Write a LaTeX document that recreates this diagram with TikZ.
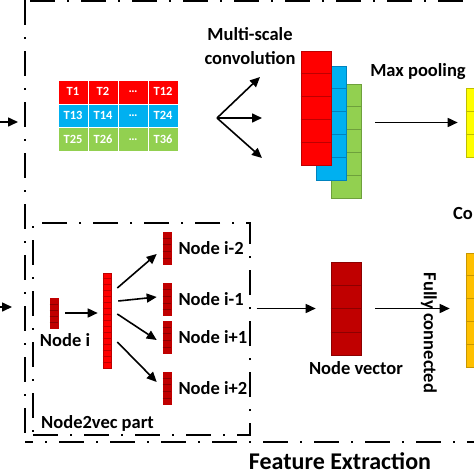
\documentclass[tikz,border=0pt]{standalone}
\usepackage{fontspec}
\setmainfont{Carlito}
\usetikzlibrary{arrows.meta,positioning,calc}
\definecolor{TRed}{RGB}{255,0,0}
\definecolor{TBlue}{RGB}{0,176,240}
\definecolor{TGreen}{RGB}{146,208,80}
\definecolor{TYellow}{RGB}{255,255,0}
\definecolor{TOrange}{RGB}{255,192,0}
\definecolor{DarkRed}{RGB}{192,0,0}
\definecolor{RedLine}{RGB}{190,0,0}
\definecolor{BlueLine}{RGB}{0,130,190}
\definecolor{GreenLine}{RGB}{110,160,60}
\definecolor{YellowLine}{RGB}{190,190,0}
\definecolor{OrangeLine}{RGB}{200,150,0}
\definecolor{DeepRed}{RGB}{140,0,0}

\begin{document}
\begin{tikzpicture}[x=1pt,y=-1pt,
    lbl/.style={font=\bfseries\fontsize{18.5}{24}\selectfont, inner sep=1pt},
    tcell/.style={minimum width=30pt, minimum height=23.7pt, inner sep=0,
      draw=white, line width=0.3pt, text=white,
      font=\bfseries\fontsize{12.5}{14}\selectfont},
    bar/.style={draw, inner sep=0, line width=0.6pt},
    arr/.style={line width=1.6pt, -{Triangle[length=10pt,width=9pt]}},
    frame/.style={line width=1.2pt, dash pattern=on 25pt off 12pt on 2pt off 12pt}]
  \useasboundingbox (0,0) rectangle (474,474);
  \def\celllines#1#2#3{%
    \foreach \k in {1,...,#2}{\ifnum\k<#2\relax
      \draw[#3, line width=0.5pt]
      ($(#1.north west)!{\k/#2}!(#1.south west)$) --
      ($(#1.north east)!{\k/#2}!(#1.south east)$);\fi}}

  % outer frame
  \draw[frame, line width=2pt, dash phase=46pt] (25,1) -- (480,1);
  \draw[frame] (25,0) -- (25,442);
  \draw[frame, dash phase=17pt] (25,442) -- (480,442);

  % inputs from the left
  \coordinate (inA) at (0,122);
  \coordinate (inAe) at (18,122);
  \coordinate (inB) at (0,307);
  \coordinate (inBe) at (12,307);
  \draw[arr] (inA) -- (inAe);
  \draw[arr] (inB) -- (inBe);

  % token table
  \foreach \r/\col/\la/\lb/\lc in {0/TRed/T1/T2/T12, 1/TBlue/T13/T14/T24,
                                   2/TGreen/T25/T26/T36}{
    \foreach \k/\txt in {0/\la, 1/\lb, 2/\ldots, 3/\lc}
      \node[tcell, fill=\col] (t\r\k) at ({73+30*\k},{91.85+23.7*\r}) {\txt};
  }

  % multi-scale convolution
  \node[lbl, align=center] (msc) at (250,46) {Multi-scale\\convolution};
  \coordinate (fork) at (217,118);
  \coordinate (fu) at (260,77);
  \coordinate (fm) at (262,118);
  \coordinate (fd) at (262,158);
  \foreach \e in {fu,fm,fd}
    \draw[arr] (fork) -- (\e);

  \foreach \nm/\xx/\yy/\col/\bd in {stackg/346/141/TGreen/GreenLine,
                                     stackb/331/123/TBlue/BlueLine,
                                     stackr/316/108/TRed/RedLine}{
    \node[bar, fill=\col, draw=\bd, minimum width=30pt,
          minimum height=114pt] (\nm) at (\xx,\yy) {};
    \celllines{\nm}{5}{\bd}
  }

  % max pooling
  \node[lbl] (mp) at (418,72) {Max pooling};
  \node[bar, fill=TYellow, draw=YellowLine, minimum width=30pt,
        minimum height=69pt] (yel) at (481,122.5) {};
  \celllines{yel}{3}{YellowLine}
  \draw[arr] ([xshift=14pt]stackg.east |- yel.west) -- ([xshift=-8pt]yel.west);

  \node[lbl, anchor=east] (co) at (474,213) {Co};

  % node2vec part
  \node[frame, draw, minimum width=217pt, minimum height=212pt,
        inner sep=0] (n2v) at (141.5,329) {};
  \node[lbl, anchor=west] (n2vlbl) at (40,423) {Node2vec part};

  \node[bar, fill=DarkRed, draw=DarkRed, minimum width=8pt,
        minimum height=30pt] (ni) at (54,313) {};
  \celllines{ni}{5}{DeepRed}
  \node[lbl] (nilbl) at (65,340) {Node i};

  \node[bar, fill=TRed, draw=RedLine, minimum width=8pt,
        minimum height=95pt] (emb) at (107,320.5) {};
  \celllines{emb}{16}{RedLine}
  \draw[arr] ([xshift=7pt]ni.east) -- ([xshift=-5pt]ni.east -| emb.west);

  \foreach \nm/\yy/\txt in {c1/248/Node i-2, c2/299.5/Node i-1,
                            c3/337/Node i+1, c4/388/Node i+2}{
    \node[bar, fill=DarkRed, draw=DarkRed, minimum width=8pt,
          minimum height=32pt] (\nm) at (167,\yy) {};
    \celllines{\nm}{5}{DeepRed}
    \node[lbl, right=6pt of \nm] (l\nm) {\txt};
  }
  \draw[arr] ([shift={(6,-32.5)}]emb.east) -- ([shift={(-6,6)}]c1.west);
  \draw[arr] ([shift={(7,-19.5)}]emb.east) -- ([shift={(-6,-2.5)}]c2.west);
  \draw[arr] ([shift={(6,-6.5)}]emb.east) -- ([shift={(-6,3)}]c3.west);
  \draw[arr] ([shift={(6,21.5)}]emb.east) -- ([shift={(-6,-6)}]c4.west);

  % node vector
  \node[bar, fill=DarkRed, draw=DeepRed, minimum width=30pt,
        minimum height=93pt] (nv) at (346,308.5) {};
  \celllines{nv}{4}{DeepRed}
  \node[lbl] (nvlbl) at (356,368) {Node vector};
  \draw[arr] ([xshift=6pt]nv.west -| n2v.east) -- ([xshift=-15pt]nv.west);

  \node[bar, fill=TOrange, draw=OrangeLine, minimum width=30pt,
        minimum height=114pt] (ora) at (481,310) {};
  \celllines{ora}{5}{OrangeLine}
  \draw[arr] ([xshift=14pt]nv.east) -- ([xshift=-16pt]nv.east -| ora.west);
  \node[lbl, rotate=-90] (fc) at (429,333) {Fully connected};

  \node[font=\bfseries\fontsize{24}{28}\selectfont, inner sep=0] (fe)
    at (340,461) {Feature Extraction};
\end{tikzpicture}
\end{document}
